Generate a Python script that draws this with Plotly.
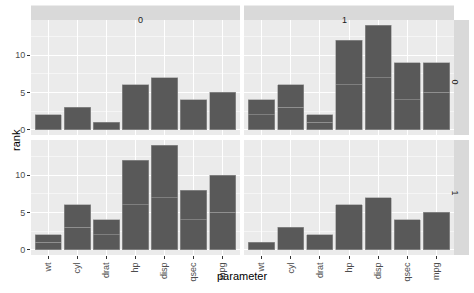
import plotly.graph_objects as go

W, H = 474, 293
parameters = ["wt", "cyl", "drat", "hp", "disp", "qsec", "mpg"]

# panel (row facet, col facet) -> list of stacked segments
panel_00 = [[2, 3, 1, 6, 7, 4, 5]]
panel_01 = [[2, 3, 1, 6, 7, 4, 5], [2, 3, 1, 6, 7, 5, 4]]
panel_10 = [[1, 3, 2, 6, 7, 4, 5], [1, 3, 2, 6, 7, 4, 5]]
panel_11 = [[1, 3, 2, 6, 7, 4, 5]]

col_labels = ["0", "1"]
row_labels = ["0", "1"]
y_ticks = [0, 5, 10]

def px_x(p):
    return p / W

def px_y(p):
    return 1 - p / H

col_dom = [[px_x(31), px_x(240)], [px_x(244), px_x(454)]]
row_dom = [[px_y(135), px_y(20)], [px_y(255), px_y(140)]]

panels = {(0, 0): panel_00, (0, 1): panel_01, (1, 0): panel_10, (1, 1): panel_11}

fig = go.Figure()
font = "Liberation Sans, Arial, sans-serif"
layout = {}
idx = 0
for (r, c), segs in panels.items():
    idx += 1
    xa = "x" if idx == 1 else f"x{idx}"
    ya = "y" if idx == 1 else f"y{idx}"
    for s in segs:
        fig.add_trace(go.Bar(x=parameters, y=s, xaxis=xa, yaxis=ya,
                             marker=dict(color="#595959", line=dict(color="#9a9a9a", width=0.6)),
                             showlegend=False, hoverinfo="skip"))
    xkey = "xaxis" if idx == 1 else f"xaxis{idx}"
    ykey = "yaxis" if idx == 1 else f"yaxis{idx}"
    layout[xkey] = dict(domain=col_dom[c], anchor=ya, type="category",
                        categoryorder="array", categoryarray=parameters,
                        range=[-0.6, 6.6], showgrid=True, gridcolor="white", gridwidth=1,
                        zeroline=False, showline=False,
                        ticks="outside" if r == 1 else "", ticklen=3, tickcolor="#333333",
                        showticklabels=(r == 1), tickangle=-90,
                        tickfont=dict(family=font, size=9, color="#4D4D4D"))
    layout[ykey] = dict(domain=row_dom[r], anchor=xa, range=[-0.7, 14.7],
                        tickvals=y_ticks, showgrid=True, gridcolor="white", gridwidth=1,
                        minor=dict(tickvals=[2.5, 7.5, 12.5], showgrid=True,
                                   gridcolor="#F5F5F5", gridwidth=0.5, ticks=""),
                        zeroline=False, showline=False,
                        ticks="outside" if c == 0 else "", ticklen=3, tickcolor="#333333",
                        showticklabels=(c == 0),
                        tickfont=dict(family=font, size=9, color="#4D4D4D"))

shapes = []
annotations = []
for c in range(2):
    shapes.append(dict(type="rect", xref="paper", yref="paper",
                       x0=col_dom[c][0], x1=col_dom[c][1], y0=px_y(20), y1=px_y(5.5),
                       fillcolor="#D9D9D9", line=dict(width=0), layer="below"))
    annotations.append(dict(text=col_labels[c], xref="paper", yref="paper",
                            x=(col_dom[c][0] + col_dom[c][1]) / 2, y=px_y(12.7),
                            showarrow=False, font=dict(family=font, size=9, color="#1A1A1A")))
for r in range(2):
    shapes.append(dict(type="rect", xref="paper", yref="paper",
                       x0=px_x(454), x1=px_x(469), y0=row_dom[r][0], y1=row_dom[r][1],
                       fillcolor="#D9D9D9", line=dict(width=0), layer="below"))
    annotations.append(dict(text=row_labels[r], xref="paper", yref="paper",
                            x=px_x(461.5), y=(row_dom[r][0] + row_dom[r][1]) / 2,
                            textangle=90, showarrow=False,
                            font=dict(family=font, size=9, color="#1A1A1A")))

annotations.append(dict(text="rank", xref="paper", yref="paper", x=px_x(8), y=px_y(140),
                        textangle=-90, showarrow=False,
                        font=dict(family=font, size=11, color="black")))
annotations.append(dict(text="parameter", xref="paper", yref="paper", x=px_x(242), y=px_y(284),
                        showarrow=False, font=dict(family=font, size=11, color="black")))

fig.update_layout(width=W, height=H, margin=dict(l=0, r=0, t=0, b=0),
                  paper_bgcolor="white", plot_bgcolor="#EBEBEB",
                  barmode="stack", bargap=0.1,
                  shapes=shapes, annotations=annotations, **layout)

fig.write_html("out.html")
